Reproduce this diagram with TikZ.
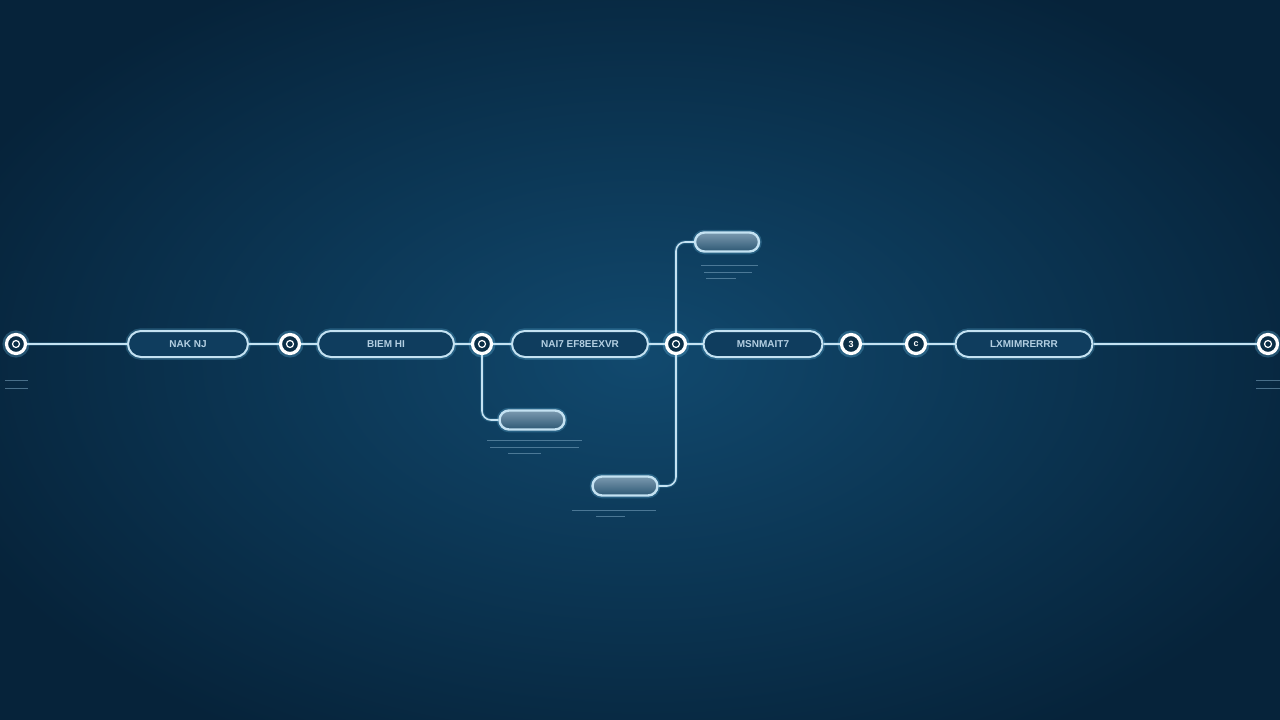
\documentclass[tikz,border=0pt]{standalone}
\usepackage{fontspec}
\setsansfont{Liberation Sans}
\usetikzlibrary{shapes.misc}
\definecolor{bgin}{HTML}{11496E}
\definecolor{bgout}{HTML}{06233A}
\definecolor{pillfill}{HTML}{0F3D5E}
\definecolor{linec}{HTML}{C4E2F2}
\definecolor{glowc}{HTML}{6FC3EA}
\definecolor{txtc}{HTML}{B3CFE2}
\definecolor{capc}{HTML}{7FA9C4}
\definecolor{minitop}{HTML}{7B9AB0}
\definecolor{minibot}{HTML}{2E5874}
\begin{document}
\begin{tikzpicture}[x=1pt,y=-1pt,
  glow/.style={preaction={draw=glowc,line width=5.5pt,opacity=0.25}},
  pill/.style={rounded rectangle,draw=linec,line width=2pt,fill=pillfill,
    minimum height=26pt,inner sep=0pt,glow,
    font=\sffamily\bfseries\fontsize{10}{11}\selectfont,text=txtc},
  minipill/.style={rounded rectangle,draw=linec,line width=2.4pt,
    minimum height=19pt,inner sep=0pt,glow,
    top color=minitop,bottom color=minibot},
  dot/.style={circle,draw=white,line width=3.2pt,fill=pillfill!75!black,
    minimum size=19pt,inner sep=0pt,
    preaction={draw=glowc,line width=8pt,opacity=0.28},
    font=\sffamily\bfseries\fontsize{9}{9}\selectfont,text=white},
  wire/.style={draw=linec,line width=1.6pt,
    preaction={draw=glowc,line width=4pt,opacity=0.18}},
  capline/.style={draw=capc,line width=0.9pt,opacity=0.55}]
\useasboundingbox (0,0) rectangle (1280,720);
\clip (0,0) rectangle (1280,720);
\shade[inner color=bgin,outer color=bgout] (-100,-80) rectangle (1380,800);

% main nodes
\node[dot] (e1) at (16,344) {};
\node[pill,minimum width=120pt] (p1) at (188,344) {NAK NJ};
\node[dot] (c1) at (290,344) {};
\node[pill,minimum width=136pt] (p2) at (386,344) {BIEM HI};
\node[dot] (c2) at (482,344) {};
\node[pill,minimum width=136pt] (p3) at (580,344) {NAI7 EF8EEXVR};
\node[dot] (c3) at (676,344) {};
\node[pill,minimum width=119pt] (p4) at (763,344) {MSNMAIT7};
\node[dot] (c4) at (851,344) {3};
\node[dot] (c5) at (916,344) {c};
\node[pill,minimum width=137pt] (p5) at (1024,344) {LXMIMRERRR};
\node[dot] (e2) at (1268,344) {};

% inner marks of dots
\foreach \n in {e1,c1,c2,c3,e2}{
  \draw[white,line width=1.2pt] (\n.center) circle (3.5pt);
}

% branch pills
\node[minipill,minimum width=64pt] (b1) at (727,242) {};
\node[minipill,minimum width=65pt] (b2) at (532,420) {};
\node[minipill,minimum width=65pt] (b3) at (625,486) {};

% main connectors
\draw[wire] (e1) -- (p1);
\draw[wire] (p1) -- (c1);
\draw[wire] (c1) -- (p2);
\draw[wire] (p2) -- (c2);
\draw[wire] (c2) -- (p3);
\draw[wire] (p3) -- (c3);
\draw[wire] (c3) -- (p4);
\draw[wire] (p4) -- (c4);
\draw[wire] (c4) -- (c5);
\draw[wire] (c5) -- (p5);
\draw[wire] (p5) -- (e2);

% branch connectors
\draw[wire,rounded corners=9pt] (c3.north) |- (b1.west);
\draw[wire,rounded corners=9pt] (c2.south) |- (b2.west);
\draw[wire,rounded corners=9pt] (c3.south) |- (b3.east);

% faint captions
\draw[capline] (701,265) -- (758,265);
\draw[capline] (704,272) -- (752,272);
\draw[capline] (706,278) -- (736,278);
\draw[capline] (487,440) -- (582,440);
\draw[capline] (490,447) -- (579,447);
\draw[capline] (508,453) -- (541,453);
\draw[capline] (572,510) -- (656,510);
\draw[capline] (596,516) -- (625,516);
\draw[capline] (5,380) -- (28,380);
\draw[capline] (5,388) -- (28,388);
\draw[capline] (1256,380) -- (1280,380);
\draw[capline] (1256,388) -- (1280,388);
\end{tikzpicture}
\end{document}
